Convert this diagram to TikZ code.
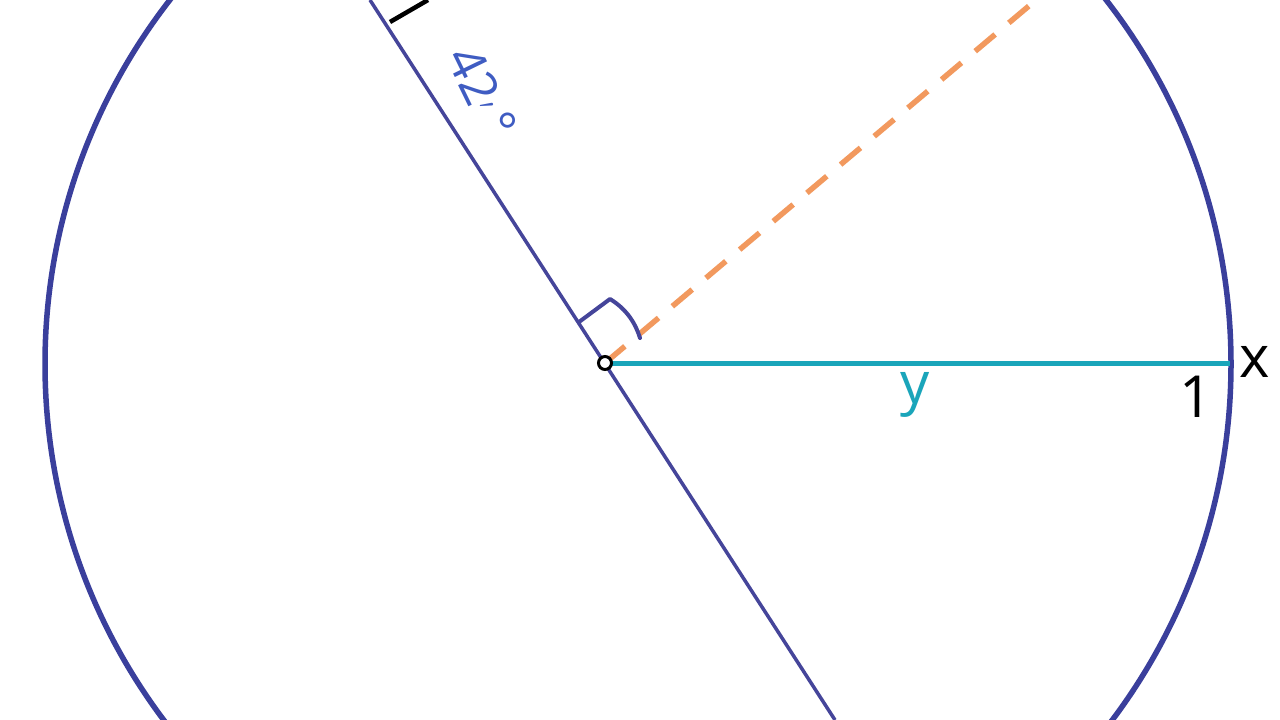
\documentclass[tikz,border=0pt]{standalone}
\usepackage{fontspec}
\setmainfont{Open Sans}
\definecolor{circ}{HTML}{3A3F9C}
\definecolor{diag}{HTML}{45459A}
\definecolor{teal1}{HTML}{1AA5BA}
\definecolor{orng}{HTML}{F2995E}
\definecolor{lbl}{HTML}{3F5CC2}
\tikzset{
  circline/.style={draw=circ,line width=5.5pt},
  diagline/.style={draw=diag,line width=3.5pt},
  radline/.style={draw=teal1,line width=5pt},
  dashline/.style={draw=orng,line width=5.5pt,dash pattern=on 26pt off 18pt},
  bigtext/.style={font=\fontsize{58}{58}\selectfont,inner sep=0pt},
}
\begin{document}
\begin{tikzpicture}[x=1pt,y=-1pt]
\useasboundingbox (0,0) rectangle (1280,720);
\fill[white] (0,0) rectangle (1280,720);
\begin{scope}
\clip (0,0) rectangle (1280,720);
\coordinate (C) at (638,364);
\draw[circline] (C) circle[radius=593];
\coordinate (T) at (370,0);
\coordinate (B) at (835,720);
\coordinate (O) at (605,363);
\coordinate (R) at (1230,363);
\coordinate (D) at (1036,0);
\draw[diagline] (T) -- (B);
\draw[dashline] (O) -- (D);
\draw[radline] (O) -- (R);
\coordinate (t1) at (390,22);
\coordinate (t2) at (428,0);
\draw[black,line width=4.5pt] (t1) -- (t2);
\coordinate (a1) at (579,322);
\coordinate (a2) at (610,299);
\coordinate (a3) at (640,338);
\draw[diagline,line width=4pt,line cap=round,line join=round] (a1) -- (a2) .. controls (628,310) and (636,325) .. (a3);
\end{scope}
\node[circle,draw=black,fill=white,line width=3pt,minimum size=13pt,inner sep=0pt] (dot) at (O) {};
\node[bigtext,text=teal1] (ylab) at (915,395) {y};
\node[bigtext,text=black] (onelab) at (1196,397) {1};
\node[bigtext,text=black] (xlab) at (1255,362) {x};
\node[font=\fontsize{50}{50}\selectfont,text=lbl,rotate=-64,inner sep=0pt] (ang) at (482,92) {42$^{\prime}$\,°};
\end{tikzpicture}
\end{document}
